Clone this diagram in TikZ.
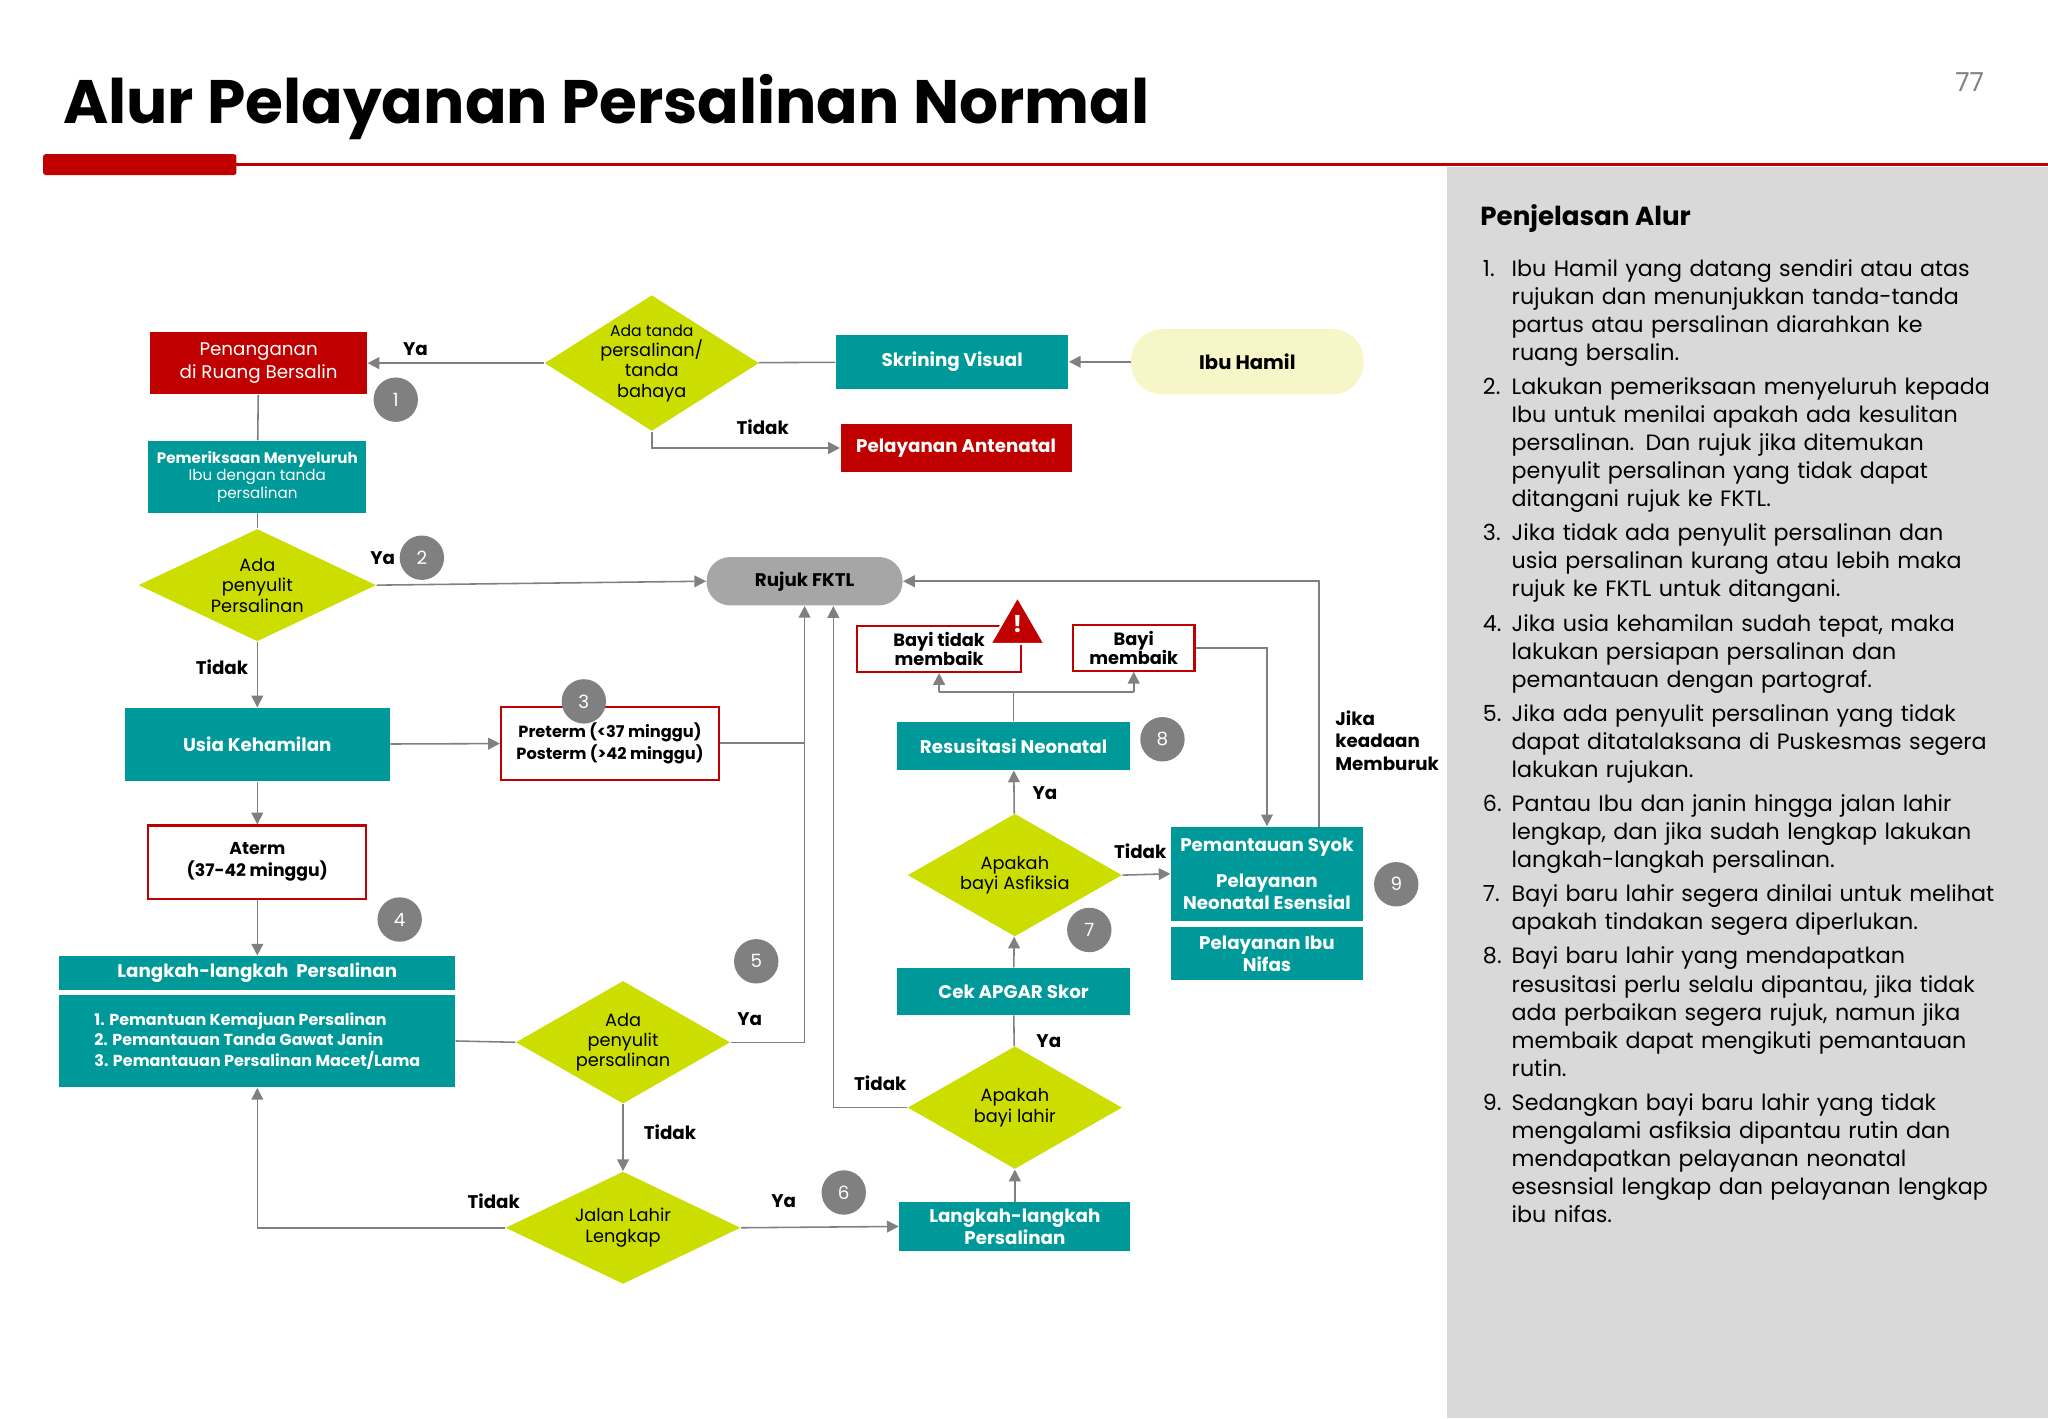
\documentclass[tikz,border=0pt]{standalone}
\usepackage{fontspec}
\setmainfont{Poppins}
\usetikzlibrary{shapes.geometric,arrows.meta}
\definecolor{teal}{RGB}{0,153,153}
\definecolor{dred}{RGB}{192,0,0}
\definecolor{lime}{RGB}{204,221,0}
\definecolor{panel}{RGB}{217,217,217}
\definecolor{cgrey}{RGB}{128,128,128}
\definecolor{pale}{RGB}{247,246,200}
\definecolor{rgrey}{RGB}{166,166,166}
\tikzset{
 tbox/.style={fill=teal,text=white,font=\fontsize{7}{8.5}\selectfont\bfseries,align=center,inner sep=1pt},
 rbox/.style={draw=dred,line width=0.8pt,fill=white,font=\fontsize{6.6}{8.3}\selectfont\bfseries,align=center,inner sep=1pt},
 dia/.style={diamond,fill=lime,inner sep=0pt,label={[font=\fontsize{6.8}{7.8}\selectfont,align=center,inner sep=0pt]center:#1}},
 num/.style={circle,fill=cgrey,text=white,minimum size=17pt,inner sep=0pt,font=\fontsize{7}{8}\selectfont},
 lbl/.style={font=\fontsize{7}{8}\selectfont\bfseries,inner sep=0pt},
 con/.style={draw=cgrey,line width=0.6pt},
 arr/.style={con,-{Triangle[length=4.5pt,width=4.5pt]}},
}
\begin{document}
\begin{tikzpicture}[x=0.5pt,y=-0.5pt]
\useasboundingbox (0,0) rectangle (1568,1086);
\fill[white] (0,0) rectangle (1568,1086);
\fill[panel] (1108,128) rectangle (1568,1086);
\draw[dred,line width=1.2pt] (180,126) -- (1568,126);
\fill[dred,rounded corners=1pt] (33,118) rectangle (181,134);
\node[anchor=west,font=\fontsize{23.5}{28}\selectfont\bfseries,inner sep=0] (title) at (48,82) {Alur Pelayanan Persalinan Normal};
\node[font=\fontsize{10}{12}\selectfont,text=cgrey] (pg) at (1508,63) {77};

\node[tbox,fill=dred,font=\fontsize{7}{8.5}\selectfont,minimum width=83pt,minimum height=24pt] (pen) at (198,278) {Penanganan\\di Ruang Bersalin};
\node[num] (n1) at (303,306) {1};
\node[dia={\fontsize{6}{7}\selectfont Ada tanda\\persalinan/\\tanda\\bahaya},minimum width=82pt,minimum height=52pt] (d1) at (499,278) {};
\node[tbox,minimum width=89pt,minimum height=20.5pt] (skr) at (729,277) {Skrining Visual};
\node[fill=pale,rounded corners=12pt,minimum width=89pt,minimum height=25pt,font=\fontsize{7.5}{9}\selectfont\bfseries] (ibu) at (955,277) {Ibu Hamil};
\node[tbox,fill=dred,minimum width=88.5pt,minimum height=18pt] (ant) at (732,343) {Pelayanan Antenatal};
\node[tbox,font=\fontsize{5.8}{6.8}\selectfont,minimum width=83.5pt,minimum height=27.5pt] (pem) at (197,365) {\textbf{Pemeriksaan Menyeluruh}\\\mdseries Ibu dengan tanda\\\mdseries persalinan};
\node[dia={Ada\\penyulit\\Persalinan},minimum width=91pt,minimum height=43pt] (d2) at (197,448) {};
\node[num] (n2) at (323,427) {2};
\node[fill=rgrey,rounded corners=9pt,minimum width=75pt,minimum height=18.5pt,font=\fontsize{7}{8}\selectfont\bfseries] (ruj) at (616,445) {Rujuk FKTL};
\node[tbox,minimum width=101.5pt,minimum height=28pt] (usia) at (197,570) {Usia Kehamilan};
\node[rbox,minimum width=83.5pt,minimum height=28pt,font=\fontsize{6.2}{8.3}\selectfont\bfseries] (pre) at (467,569) {Preterm (<37 minggu)\\Posterm (>42 minggu)};
\node[num] (n3) at (447,537) {3};
\node[rbox,minimum width=83.5pt,minimum height=28pt] (ate) at (197,660) {Aterm\\(37-42 minggu)};
\node[num] (n4) at (306,704) {4};
\node[tbox,minimum width=151.5pt,minimum height=13pt] (hdr) at (197,745) {Langkah-langkah\ \ Persalinan};
\node[tbox,font=\fontsize{6.1}{7.8}\selectfont\bfseries,align=left,minimum width=151.5pt,minimum height=35.5pt] (lst) at (197,797) {1. Pemantuan Kemajuan Persalinan\\2. Pemantauan Tanda Gawat Janin\\3. Pemantauan Persalinan Macet/Lama};
\node[dia={Ada\\penyulit\\persalinan},minimum width=82pt,minimum height=47pt] (d3) at (477,798) {};
\node[num] (n5) at (579,736) {5};
\node[dia={Jalan Lahir\\Lengkap},minimum width=90pt,minimum height=43pt] (jl) at (477,940) {};
\node[num] (n6) at (646,913) {6};
\node[tbox,minimum width=88.5pt,minimum height=18.5pt] (lk2) at (777,939) {Langkah-langkah\\Persalinan};
\node[dia={Apakah\\bayi lahir},minimum width=82pt,minimum height=47pt] (bl) at (777,848) {};
\node[tbox,minimum width=89pt,minimum height=18pt] (apg) at (776,759) {Cek APGAR Skor};
\node[num] (n7) at (834,712) {7};
\node[dia={Apakah\\bayi Asfiksia},minimum width=82pt,minimum height=47pt] (asf) at (777,670) {};
\node[tbox,minimum width=89pt,minimum height=18.5pt] (res) at (776,571) {Resusitasi Neonatal};
\node[num] (n8) at (890,566) {8};
\node[rbox,minimum width=63pt,minimum height=17.5pt,font=\fontsize{6.8}{7.5}\selectfont\bfseries] (btm) at (719,497) {Bayi tidak\\membaik};
\node[rbox,minimum width=46.5pt,minimum height=17.5pt,font=\fontsize{6.8}{7.5}\selectfont\bfseries] (bm) at (868,496) {Bayi\\membaik};
\node[draw=white,line width=0.8pt,fill=dred,regular polygon,regular polygon sides=3,minimum size=24pt,inner sep=0pt] (warn) at (779,481) {};
\node[text=white,font=\fontsize{9}{9}\selectfont\bfseries] (warnt) at (779,478) {!};
\node[tbox,minimum width=73.5pt,minimum height=36pt] (syok) at (970,669) {Pemantauan Syok\\[5pt]Pelayanan\\Neonatal Esensial};
\node[tbox,minimum width=73.5pt,minimum height=20pt] (nif) at (970,730) {Pelayanan Ibu\\Nifas};
\node[num] (n9) at (1069,677) {9};

\node[lbl] (lya1) at (318,267) {Ya};
\node[lbl] (lt1) at (584,327) {Tidak};
\node[lbl] (lya2) at (293,427) {Ya};
\node[lbl] (lt2) at (170,511) {Tidak};
\node[lbl] (lya3) at (574,780) {Ya};
\node[lbl] (lt3) at (513,867) {Tidak};
\node[lbl] (lt4) at (378,920) {Tidak};
\node[lbl] (lya4) at (600,920) {Ya};
\node[lbl] (lt5) at (674,829) {Tidak};
\node[lbl] (lya5) at (803,797) {Ya};
\node[lbl] (lya6) at (800,607) {Ya};
\node[lbl] (lt6) at (873,652) {Tidak};
\node[lbl,anchor=north west,align=left,font=\fontsize{7}{8.5}\selectfont\bfseries] (ljk) at (1022,544) {Jika\\keadaan\\Memburuk};

\draw[arr] (ibu) -- (skr);
\draw[con] (skr) -- (d1);
\draw[arr] (d1) -- (pen);
\draw[arr] (d1.south) |- (ant);
\draw[con] (pen) -- (pem);
\draw[con] (pem) -- (d2);
\draw[arr] (d2.east) -- (ruj.west);
\draw[arr] (d2) -- (usia);
\draw[arr] (usia) -- (pre);
\draw[arr] (usia) -- (ate);
\draw[arr] (ate) -- (hdr);
\coordinate (j1) at (616,798);
\draw[con] (pre.east) -- (616,569);
\draw[arr] (d3.east) -- (j1) -- (ruj.south);
\draw[con] (lst.east) -- (d3.west);
\draw[arr] (d3) -- (jl);
\draw[arr] (jl.west) -| (lst.south);
\draw[arr] (jl.east) -- (lk2.west);
\draw[arr] (lk2) -- (bl);
\draw[con] (bl) -- (apg);
\draw[arr] (bl.west) -| (638,464);
\draw[arr] (apg) -- (asf);
\draw[arr] (asf) -- (res);
\draw[arr] (asf.east) -- (syok.west);
\draw[con] (res.north) -- (776,530);
\draw[arr] (719,530) -- (btm.south);
\draw[arr] (868,530) -- (bm.south);
\draw[con] (719,530) -- (868,530);
\draw[arr] (bm.east) -| (syok.north);
\draw[arr] (1010,633) |- (ruj.east);

\node[anchor=north west,inner sep=0,font=\fontsize{10}{12}\selectfont\bfseries] (ph) at (1133,156) {Penjelasan Alur};
\node[anchor=north west,inner sep=0,text width=196pt,font=\fontsize{8.5}{10.75}\selectfont,align=left] (pl) at (1135,198) {%
\parskip=2.3pt\hyphenpenalty=10000\exhyphenpenalty=10000
\def\it#1#2{\hangindent=11pt\hangafter=1\noindent\makebox[11pt][l]{#1.}#2\par}%
\it1{Ibu Hamil yang datang sendiri atau atas rujukan dan menunjukkan tanda-tanda partus atau persalinan diarahkan ke ruang bersalin.}
\it2{Lakukan pemeriksaan menyeluruh kepada Ibu untuk menilai apakah ada kesulitan persalinan. Dan rujuk jika ditemukan penyulit persalinan yang tidak dapat ditangani rujuk ke FKTL.}
\it3{Jika tidak ada penyulit persalinan dan usia persalinan kurang atau lebih maka rujuk ke FKTL untuk ditangani.}
\it4{Jika usia kehamilan sudah tepat, maka lakukan persiapan persalinan dan pemantauan dengan partograf.}
\it5{Jika ada penyulit persalinan yang tidak dapat ditatalaksana di Puskesmas segera lakukan rujukan.}
\it6{Pantau Ibu dan janin hingga jalan lahir lengkap, dan jika sudah lengkap lakukan langkah-langkah persalinan.}
\it7{Bayi baru lahir segera dinilai untuk melihat apakah tindakan segera diperlukan.}
\it8{Bayi baru lahir yang mendapatkan resusitasi perlu selalu dipantau, jika tidak ada perbaikan segera rujuk, namun jika membaik dapat mengikuti pemantauan rutin.}
\it9{Sedangkan bayi baru lahir yang tidak mengalami asfiksia dipantau rutin dan mendapatkan pelayanan neonatal esesnsial lengkap dan pelayanan lengkap ibu nifas.}
};
\end{tikzpicture}
\end{document}
